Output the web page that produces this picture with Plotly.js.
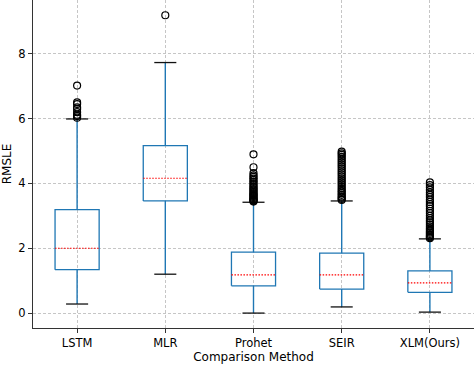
<!DOCTYPE html>
<html>
<head>
<meta charset="utf-8">
<script src="https://cdn.plot.ly/plotly-3.0.1.min.js"></script>
<style>html,body{margin:0;padding:0;background:#fff;}#chart{width:474px;height:367px;}</style>
</head>
<body>
<div id="chart"></div>
<script>
const categories = ["LSTM", "MLR", "Prohet", "SEIR", "XLM(Ours)"];
const q1Values = [1.34, 3.46, 0.84, 0.74, 0.64];
const medianValues = [2.0, 4.16, 1.18, 1.18, 0.93];
const q3Values = [3.19, 5.17, 1.88, 1.85, 1.30];
const lowerWhiskers = [0.28, 1.20, 0.00, 0.19, 0.03];
const upperWhiskers = [5.99, 7.73, 3.42, 3.46, 2.29];
const outliersLSTM = [7.02, 6.50, 6.45, 6.35, 6.30, 6.20, 6.12, 6.08, 6.03];
const outliersMLR = [9.19];
const outliersProhet = [4.90, 4.50, 4.32, 4.25, 4.20, 4.15, 4.10, 4.05, 4.00, 3.95, 3.90, 3.86, 3.82, 3.78, 3.74, 3.70, 3.67, 3.64, 3.61, 3.58, 3.55, 3.52, 3.50, 3.48, 3.46, 3.44];
const outliersSEIR = [4.98, 4.93, 4.88, 4.82, 4.76, 4.70, 4.64, 4.58, 4.52, 4.46, 4.40, 4.34, 4.28, 4.22, 4.16, 4.10, 4.04, 3.98, 3.92, 3.86, 3.80, 3.75, 3.70, 3.65, 3.60, 3.56, 3.52, 3.49];
const outliersXLM = [4.03, 3.95, 3.88, 3.80, 3.72, 3.65, 3.58, 3.50, 3.43, 3.36, 3.30, 3.22, 3.15, 3.08, 3.00, 2.93, 2.86, 2.80, 2.74, 2.68, 2.62, 2.57, 2.52, 2.48, 2.44, 2.40, 2.37, 2.34, 2.31];
const yTicks = [0, 2, 4, 6, 8];

const outlierSets = [outliersLSTM, outliersMLR, outliersProhet, outliersSEIR, outliersXLM];
const boxHalf = 0.25, capHalf = 0.125;
const pos = categories.map((c, i) => i + 1);

const boxX = [], boxY = [], whX = [], whY = [], capX = [], capY = [], medX = [], medY = [], outX = [], outY = [];
pos.forEach((p, i) => {
  boxX.push(p - boxHalf, p + boxHalf, p + boxHalf, p - boxHalf, p - boxHalf, null);
  boxY.push(q1Values[i], q1Values[i], q3Values[i], q3Values[i], q1Values[i], null);
  whX.push(p, p, null, p, p, null);
  whY.push(q1Values[i], lowerWhiskers[i], null, q3Values[i], upperWhiskers[i], null);
  capX.push(p - capHalf, p + capHalf, null, p - capHalf, p + capHalf, null);
  capY.push(lowerWhiskers[i], lowerWhiskers[i], null, upperWhiskers[i], upperWhiskers[i], null);
  medX.push(p - boxHalf, p + boxHalf, null);
  medY.push(medianValues[i], medianValues[i], null);
  outlierSets[i].forEach(v => { outX.push(p); outY.push(v); });
});

const blue = "#1f77b4";
const traces = [
  {x: whX, y: whY, mode: "lines", line: {color: blue, width: 1.4}, hoverinfo: "skip"},
  {x: boxX, y: boxY, mode: "lines", line: {color: blue, width: 1.3}, hoverinfo: "skip"},
  {x: capX, y: capY, mode: "lines", line: {color: "#111", width: 1.3}, hoverinfo: "skip"},
  {x: medX, y: medY, mode: "lines", line: {color: "#ff0000", width: 1.2, dash: "1.5px,1.5px"}, hoverinfo: "skip"},
  {x: outX, y: outY, mode: "markers", marker: {symbol: "circle-open", size: 7, color: "#000", line: {width: 1.2, color: "#000"}}}
];

const layout = {
  width: 474, height: 367,
  margin: {l: 33, r: 0, t: 0, b: 39},
  showlegend: false,
  paper_bgcolor: "#fff", plot_bgcolor: "#fff",
  font: {family: "DejaVu Sans", size: 12, color: "#000"},
  xaxis: {
    range: [0.5, 5.5], tickvals: pos, ticktext: categories,
    showgrid: true, gridcolor: "#b8b8b8", griddash: "3px,2px", gridwidth: 0.8,
    zeroline: false, showline: true, linecolor: "#333", linewidth: 1.2,
    ticks: "outside", ticklen: 4, tickcolor: "#333",
    tickfont: {size: 11.5},
    title: {text: "Comparison Method", font: {size: 12}, standoff: 2}
  },
  yaxis: {
    range: [-0.46, 9.66], tickvals: yTicks,
    showgrid: true, gridcolor: "#b8b8b8", griddash: "3px,2px", gridwidth: 0.8,
    zeroline: false, showline: true, linecolor: "#333", linewidth: 1.2,
    ticks: "outside", ticklen: 4, tickcolor: "#333",
    tickfont: {size: 11.5},
    title: {text: "RMSLE", font: {size: 12}, standoff: 4}
  }
};

Plotly.newPlot("chart", traces, layout, {displayModeBar: false, staticPlot: true});
</script>
</body>
</html>
